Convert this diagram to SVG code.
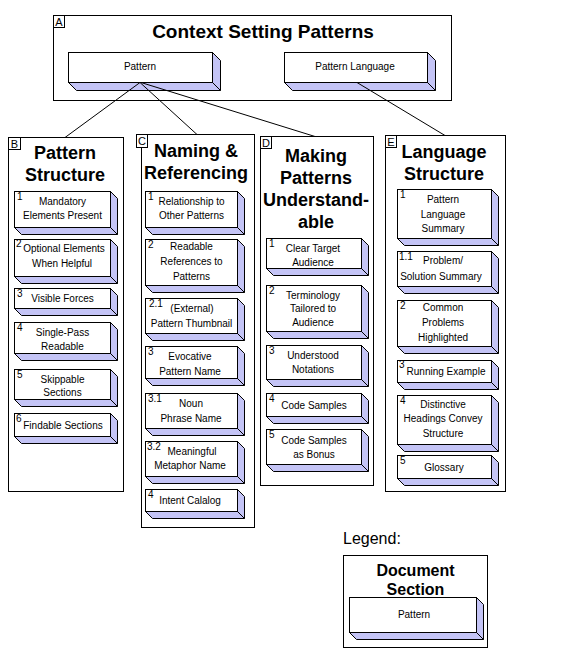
<svg xmlns="http://www.w3.org/2000/svg" width="576" height="661" viewBox="0 0 576 661">
<style>
.fr{fill:none;stroke:#000;stroke-width:1}
.lb{fill:#fff;stroke:#000;stroke-width:1}
.sd{fill:#c4c4f6;stroke:#000;stroke-width:1}
.ed{stroke:#000;stroke-width:1}
.fc{fill:#fff;stroke:#000;stroke-width:1}
.cn{stroke:#000;stroke-width:1;fill:none}
text{font-family:"Liberation Sans",Arial,sans-serif;fill:#000}
.t{font-size:10px;text-anchor:middle}
.n{font-size:10px}
.l{font-size:11px;text-anchor:middle}
.h{font-size:18px;font-weight:bold;text-anchor:middle}
.ht{font-size:19px;font-weight:bold;text-anchor:middle}
.hl{font-size:16px;font-weight:bold;text-anchor:middle}
.lg{font-size:16px}
</style>
<rect width="576" height="661" fill="#fff"/>

<g id="A">
<rect class="fr" x="53.5" y="15.5" width="398" height="85"/>
<rect class="lb" x="53.5" y="15.5" width="11" height="12"/>
<text class="l" x="59" y="25.5">A</text>
<text class="ht" x="263" y="38">Context Setting Patterns</text>
</g>
<g id="a-pattern">
<polygon class="sd" points="212.5,52.5 220.5,60.5 220.5,90.5 76.5,90.5 68.5,82.5"/>
<line class="ed" x1="212.5" y1="82.5" x2="220.5" y2="90.5"/>
<rect class="fc" x="68.5" y="52.5" width="144" height="30"/>
<text class="t" x="140" y="69.5">Pattern</text>
</g>
<g id="a-language">
<polygon class="sd" points="427.5,52.5 435.5,60.5 435.5,90.5 292.5,90.5 284.5,82.5"/>
<line class="ed" x1="427.5" y1="82.5" x2="435.5" y2="90.5"/>
<rect class="fc" x="284.5" y="52.5" width="143" height="30"/>
<text class="t" x="355" y="69.5">Pattern Language</text>
</g>

<g id="connectors">
<line class="cn" x1="140" y1="82.5" x2="65" y2="137.5"/>
<line class="cn" x1="140" y1="82.5" x2="197" y2="134.5"/>
<line class="cn" x1="141" y1="82.5" x2="315" y2="136.5"/>
<line class="cn" x1="357" y1="82.5" x2="445" y2="135.5"/>
</g>

<g id="B">
<rect class="fr" x="8.5" y="137.5" width="115" height="354"/>
<rect class="lb" x="8.5" y="137.5" width="12" height="12"/>
<text class="l" x="14.5" y="147.5">B</text>
<text class="h" x="65" y="159">Pattern</text>
<text class="h" x="65" y="181">Structure</text>
</g>
<g id="b1">
<polygon class="sd" points="110.5,191.5 117.5,198.5 117.5,234.5 21.5,234.5 14.5,227.5"/>
<line class="ed" x1="110.5" y1="227.5" x2="117.5" y2="234.5"/>
<rect class="fc" x="14.5" y="191.5" width="96" height="36"/>
<text class="n" x="17" y="200">1</text>
<text class="t" x="62.5" y="205">Mandatory</text>
<text class="t" x="62.5" y="219">Elements Present</text>
</g>
<g id="b2">
<polygon class="sd" points="110.5,239.5 117.5,246.5 117.5,283.5 21.5,283.5 14.5,276.5"/>
<line class="ed" x1="110.5" y1="276.5" x2="117.5" y2="283.5"/>
<rect class="fc" x="14.5" y="239.5" width="96" height="37"/>
<text class="n" x="16" y="247">2</text>
<text class="t" x="64" y="251.5">Optional Elements</text>
<text class="t" x="62" y="266.5">When Helpful</text>
</g>
<g id="b3">
<polygon class="sd" points="110.5,288.5 117.5,295.5 117.5,315.5 21.5,315.5 14.5,308.5"/>
<line class="ed" x1="110.5" y1="308.5" x2="117.5" y2="315.5"/>
<rect class="fc" x="14.5" y="288.5" width="96" height="20"/>
<text class="n" x="17" y="297">3</text>
<text class="t" x="62.5" y="302">Visible Forces</text>
</g>
<g id="b4">
<polygon class="sd" points="110.5,322.5 117.5,329.5 117.5,360.5 21.5,360.5 14.5,353.5"/>
<line class="ed" x1="110.5" y1="353.5" x2="117.5" y2="360.5"/>
<rect class="fc" x="14.5" y="322.5" width="96" height="31"/>
<text class="n" x="17" y="331">4</text>
<text class="t" x="62.5" y="336">Single-Pass</text>
<text class="t" x="62.5" y="350">Readable</text>
</g>
<g id="b5">
<polygon class="sd" points="110.5,369.5 117.5,376.5 117.5,406.5 21.5,406.5 14.5,399.5"/>
<line class="ed" x1="110.5" y1="399.5" x2="117.5" y2="406.5"/>
<rect class="fc" x="14.5" y="369.5" width="96" height="30"/>
<text class="n" x="17" y="378">5</text>
<text class="t" x="62.5" y="382.5">Skippable</text>
<text class="t" x="62.5" y="396">Sections</text>
</g>
<g id="b6">
<polygon class="sd" points="110.5,413.5 117.5,420.5 117.5,443.5 21.5,443.5 14.5,436.5"/>
<line class="ed" x1="110.5" y1="436.5" x2="117.5" y2="443.5"/>
<rect class="fc" x="14.5" y="413.5" width="96" height="23"/>
<text class="n" x="16" y="422">6</text>
<text class="t" x="63" y="428.5">Findable Sections</text>
</g>

<g id="C">
<rect class="fr" x="141.5" y="134.5" width="113" height="393"/>
<rect class="lb" x="136.5" y="134.5" width="11" height="13"/>
<text class="l" x="142" y="145">C</text>
<text class="h" x="196" y="157">Naming &amp;</text>
<text class="h" x="196" y="178.5">Referencing</text>
</g>
<g id="c1">
<polygon class="sd" points="237.5,191.5 244.5,198.5 244.5,234.5 152.5,234.5 145.5,227.5"/>
<line class="ed" x1="237.5" y1="227.5" x2="244.5" y2="234.5"/>
<rect class="fc" x="145.5" y="191.5" width="92" height="36"/>
<text class="n" x="148" y="200">1</text>
<text class="t" x="191.5" y="205">Relationship to</text>
<text class="t" x="191.5" y="219">Other Patterns</text>
</g>
<g id="c2">
<polygon class="sd" points="237.5,239.5 244.5,246.5 244.5,292.5 152.5,292.5 145.5,285.5"/>
<line class="ed" x1="237.5" y1="285.5" x2="244.5" y2="292.5"/>
<rect class="fc" x="145.5" y="239.5" width="92" height="46"/>
<text class="n" x="148" y="248">2</text>
<text class="t" x="191.5" y="250">Readable</text>
<text class="t" x="191.5" y="265">References to</text>
<text class="t" x="191.5" y="280">Patterns</text>
</g>
<g id="c3">
<polygon class="sd" points="237.5,298.5 244.5,305.5 244.5,340.5 152.5,340.5 145.5,333.5"/>
<line class="ed" x1="237.5" y1="333.5" x2="244.5" y2="340.5"/>
<rect class="fc" x="145.5" y="298.5" width="92" height="35"/>
<text class="n" x="149" y="307">2.1</text>
<text class="t" x="192" y="311.5">(External)</text>
<text class="t" x="191.5" y="326.5">Pattern Thumbnail</text>
</g>
<g id="c4">
<polygon class="sd" points="237.5,346.5 244.5,353.5 244.5,385.5 152.5,385.5 145.5,378.5"/>
<line class="ed" x1="237.5" y1="378.5" x2="244.5" y2="385.5"/>
<rect class="fc" x="145.5" y="346.5" width="92" height="32"/>
<text class="n" x="148" y="355">3</text>
<text class="t" x="190" y="360">Evocative</text>
<text class="t" x="190" y="374.5">Pattern Name</text>
</g>
<g id="c5">
<polygon class="sd" points="237.5,393.5 244.5,400.5 244.5,435.5 152.5,435.5 145.5,428.5"/>
<line class="ed" x1="237.5" y1="428.5" x2="244.5" y2="435.5"/>
<rect class="fc" x="145.5" y="393.5" width="92" height="35"/>
<text class="n" x="148" y="402">3.1</text>
<text class="t" x="191" y="406.5">Noun</text>
<text class="t" x="191" y="421.5">Phrase Name</text>
</g>
<g id="c6">
<polygon class="sd" points="237.5,441.5 244.5,448.5 244.5,483.5 152.5,483.5 145.5,476.5"/>
<line class="ed" x1="237.5" y1="476.5" x2="244.5" y2="483.5"/>
<rect class="fc" x="145.5" y="441.5" width="92" height="35"/>
<text class="n" x="147" y="450">3.2</text>
<text class="t" x="192" y="455">Meaningful</text>
<text class="t" x="190" y="469">Metaphor Name</text>
</g>
<g id="c7">
<polygon class="sd" points="237.5,489.5 244.5,496.5 244.5,518.5 152.5,518.5 145.5,511.5"/>
<line class="ed" x1="237.5" y1="511.5" x2="244.5" y2="518.5"/>
<rect class="fc" x="145.5" y="489.5" width="92" height="22"/>
<text class="n" x="148" y="498">4</text>
<text class="t" x="190" y="503.5">Intent Calalog</text>
</g>

<g id="D">
<rect class="fr" x="260.5" y="136.5" width="113" height="349"/>
<rect class="lb" x="260.5" y="136.5" width="11" height="12"/>
<text class="l" x="266" y="146.5">D</text>
<text class="h" x="316" y="161.5">Making</text>
<text class="h" x="316" y="183.5">Patterns</text>
<text class="h" x="316" y="205.5">Understand-</text>
<text class="h" x="316" y="227.5">able</text>
</g>
<g id="d1">
<polygon class="sd" points="361.5,238.5 368.5,245.5 368.5,275.5 273.5,275.5 266.5,268.5"/>
<line class="ed" x1="361.5" y1="268.5" x2="368.5" y2="275.5"/>
<rect class="fc" x="266.5" y="238.5" width="95" height="30"/>
<text class="n" x="269" y="247">1</text>
<text class="t" x="313" y="252">Clear Target</text>
<text class="t" x="313" y="265.5">Audience</text>
</g>
<g id="d2">
<polygon class="sd" points="361.5,285.5 368.5,292.5 368.5,338.5 273.5,338.5 266.5,331.5"/>
<line class="ed" x1="361.5" y1="331.5" x2="368.5" y2="338.5"/>
<rect class="fc" x="266.5" y="285.5" width="95" height="46"/>
<text class="n" x="269" y="294">2</text>
<text class="t" x="313" y="298.5">Terminology</text>
<text class="t" x="313" y="312">Tailored to</text>
<text class="t" x="313" y="326">Audience</text>
</g>
<g id="d3">
<polygon class="sd" points="361.5,345.5 368.5,352.5 368.5,386.5 273.5,386.5 266.5,379.5"/>
<line class="ed" x1="361.5" y1="379.5" x2="368.5" y2="386.5"/>
<rect class="fc" x="266.5" y="345.5" width="95" height="34"/>
<text class="n" x="269" y="354">3</text>
<text class="t" x="313" y="358.5">Understood</text>
<text class="t" x="313" y="373">Notations</text>
</g>
<g id="d4">
<polygon class="sd" points="361.5,393.5 368.5,400.5 368.5,423.5 273.5,423.5 266.5,416.5"/>
<line class="ed" x1="361.5" y1="416.5" x2="368.5" y2="423.5"/>
<rect class="fc" x="266.5" y="393.5" width="95" height="23"/>
<text class="n" x="269" y="402">4</text>
<text class="t" x="314" y="408.5">Code Samples</text>
</g>
<g id="d5">
<polygon class="sd" points="361.5,429.5 368.5,436.5 368.5,471.5 273.5,471.5 266.5,464.5"/>
<line class="ed" x1="361.5" y1="464.5" x2="368.5" y2="471.5"/>
<rect class="fc" x="266.5" y="429.5" width="95" height="35"/>
<text class="n" x="269" y="438">5</text>
<text class="t" x="314" y="444">Code Samples</text>
<text class="t" x="314" y="458">as Bonus</text>
</g>

<g id="E">
<rect class="fr" x="385.5" y="135.5" width="120" height="356"/>
<rect class="lb" x="385.5" y="135.5" width="11" height="12"/>
<text class="l" x="391" y="145.5">E</text>
<text class="h" x="444" y="158">Language</text>
<text class="h" x="444" y="180">Structure</text>
</g>
<g id="e1">
<polygon class="sd" points="491.5,189.5 498.5,196.5 498.5,245.5 404.5,245.5 397.5,238.5"/>
<line class="ed" x1="491.5" y1="238.5" x2="498.5" y2="245.5"/>
<rect class="fc" x="397.5" y="189.5" width="94" height="49"/>
<text class="n" x="400" y="198">1</text>
<text class="t" x="443" y="203">Pattern</text>
<text class="t" x="443" y="217.5">Language</text>
<text class="t" x="443" y="232">Summary</text>
</g>
<g id="e2">
<polygon class="sd" points="491.5,251.5 498.5,258.5 498.5,293.5 404.5,293.5 397.5,286.5"/>
<line class="ed" x1="491.5" y1="286.5" x2="498.5" y2="293.5"/>
<rect class="fc" x="397.5" y="251.5" width="94" height="35"/>
<text class="n" x="399" y="260">1.1</text>
<text class="t" x="443" y="263.5">Problem/</text>
<text class="t" x="441" y="279.5">Solution Summary</text>
</g>
<g id="e3">
<polygon class="sd" points="491.5,300.5 498.5,307.5 498.5,353.5 404.5,353.5 397.5,346.5"/>
<line class="ed" x1="491.5" y1="346.5" x2="498.5" y2="353.5"/>
<rect class="fc" x="397.5" y="300.5" width="94" height="46"/>
<text class="n" x="400" y="309">2</text>
<text class="t" x="443" y="311">Common</text>
<text class="t" x="443" y="325.5">Problems</text>
<text class="t" x="443" y="340.5">Highlighted</text>
</g>
<g id="e4">
<polygon class="sd" points="491.5,360.5 498.5,367.5 498.5,389.5 404.5,389.5 397.5,382.5"/>
<line class="ed" x1="491.5" y1="382.5" x2="498.5" y2="389.5"/>
<rect class="fc" x="397.5" y="360.5" width="94" height="22"/>
<text class="n" x="399" y="368">3</text>
<text class="t" x="446" y="374.5">Running Example</text>
</g>
<g id="e5">
<polygon class="sd" points="491.5,395.5 498.5,402.5 498.5,451.5 404.5,451.5 397.5,444.5"/>
<line class="ed" x1="491.5" y1="444.5" x2="498.5" y2="451.5"/>
<rect class="fc" x="397.5" y="395.5" width="94" height="49"/>
<text class="n" x="400" y="404">4</text>
<text class="t" x="443" y="407.5">Distinctive</text>
<text class="t" x="443" y="422">Headings Convey</text>
<text class="t" x="443" y="436.5">Structure</text>
</g>
<g id="e6">
<polygon class="sd" points="491.5,455.5 498.5,462.5 498.5,485.5 404.5,485.5 397.5,478.5"/>
<line class="ed" x1="491.5" y1="478.5" x2="498.5" y2="485.5"/>
<rect class="fc" x="397.5" y="455.5" width="94" height="23"/>
<text class="n" x="400" y="464">5</text>
<text class="t" x="444" y="470.5">Glossary</text>
</g>

<g id="legend">
<text class="lg" x="343" y="544">Legend:</text>
<rect class="fr" x="343.5" y="555.5" width="144" height="92"/>
<text class="hl" x="415.5" y="575.5">Document</text>
<text class="hl" x="415.5" y="595">Section</text>
</g>
<g id="legend-pattern">
<polygon class="sd" points="476.5,597.5 483.5,604.5 483.5,639.5 356.5,639.5 349.5,632.5"/>
<line class="ed" x1="476.5" y1="632.5" x2="483.5" y2="639.5"/>
<rect class="fc" x="349.5" y="597.5" width="127" height="35"/>
<text class="t" x="414" y="618">Pattern</text>
</g>
</svg>
